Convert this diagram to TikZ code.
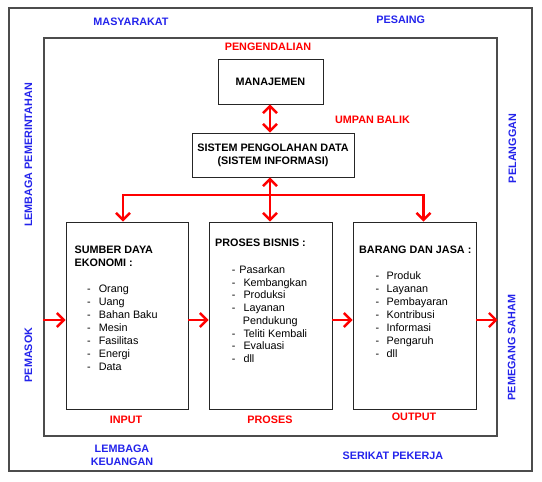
\documentclass[tikz,border=0pt]{standalone}
\usepackage{fontspec}
\setmainfont{Liberation Sans}
\usetikzlibrary{arrows.meta,positioning}
\definecolor{birulabel}{RGB}{35,35,235}

\begin{document}
\begin{tikzpicture}[x=1pt,y=-1pt,
  >={Straight Barb[length=7pt,width=14pt]},
  every node/.style = {font=\fontsize{10.8}{13}\selectfont},
  kotak/.style = {draw=black!85, line width=0.9pt, fill=white, inner sep=0pt},
  bingkai/.style = {draw=black!70, line width=1.3pt, inner sep=0pt},
  judul/.style = {font=\fontsize{10.8}{13}\selectfont\bfseries},
  merah/.style = {judul, text=red},
  biru/.style = {judul, text=birulabel},
  butir/.style = {anchor=base west, inner sep=0pt},
  panah/.style = {draw=red, line width=2.4pt, line join=miter}]
  \useasboundingbox (0,0) rectangle (542,482);

  % lingkungan dan organisasi
  \node[bingkai, minimum width=523pt, minimum height=463pt] (luar) at (270.5,239.5) {};
  \node[bingkai, minimum width=453pt, minimum height=398pt] (dalam) at (270.5,237) {};

  \node[kotak, judul, minimum width=105pt, minimum height=45pt] (manajemen) at (270.5,81.5) {MANAJEMEN};
  \node[kotak, judul, align=center, minimum width=162pt, minimum height=44pt] (spd) at (273,155)
    {SISTEM PENGOLAHAN DATA\\(SISTEM INFORMASI)};
  \node[kotak, minimum width=122pt, minimum height=187pt] (input) at (127,315.5) {};
  \node[kotak, minimum width=123pt, minimum height=187pt] (proses) at (270.5,315.5) {};
  \node[kotak, minimum width=123pt, minimum height=187pt] (output) at (414.5,315.5) {};

  % panah
  \coordinate (poros) at (270,0);
  \coordinate (jalur) at (0,320);
  \coordinate (kiri) at (123,195);
  \coordinate (kanan) at (423.5,195);
  \draw[panah, <->] (manajemen.south -| poros) -- (spd.north -| poros);
  \draw[panah, <->] (spd.south -| poros) -- (proses.north -| poros);
  \draw[panah, <->] (input.north -| kiri) -- (kiri) -- (kanan) -- (output.north -| kanan);
  \draw[panah, ->] (dalam.west |- jalur) -- (input.west |- jalur);
  \draw[panah, ->] (input.east |- jalur) -- (proses.west |- jalur);
  \draw[panah, ->] (proses.east |- jalur) -- (output.west |- jalur);
  \draw[panah, ->] (output.east |- jalur) -- (dalam.east |- jalur);

  % label merah
  \node[merah, anchor=base] (pengendalian) at (268,50.8) {PENGENDALIAN};
  \node[merah, anchor=base] (umpanbalik) at (372.5,123.8) {UMPAN BALIK};
  \node[merah, anchor=base] (lblinput) at (126,423.8) {INPUT};
  \node[merah, anchor=base] (lblproses) at (270,423.8) {PROSES};
  \node[merah, anchor=base] (lbloutput) at (414,420.8) {OUTPUT};

  % label biru
  \node[biru, anchor=base] (masyarakat) at (131,25.8) {MASYARAKAT};
  \node[biru, anchor=base] (pesaing) at (400.7,23) {PESAING};
  \node[biru, rotate=90] (pemerintah) at (28.4,155) {LEMBAGA PEMERINTAHAN};
  \node[biru, rotate=90] (pelanggan) at (512.5,148.5) {PELANGGAN};
  \node[biru, rotate=90] (pemasok) at (28.4,355) {PEMASOK};
  \node[biru, rotate=90] (pemegang) at (511.7,347.5) {PEMEGANG SAHAM};
  \node[biru, align=center, anchor=base] (keuangan) at (122,465.8) {LEMBAGA\\KEUANGAN};
  \node[biru, anchor=base] (serikat) at (393,459.8) {SERIKAT PEKERJA};

  % isi kotak
  \node[judul, butir, align=left] (kepala1) at (74.4,266.8) {SUMBER DAYA\\EKONOMI :};
  \node[judul, butir] (kepala2) at (215,246.8) {PROSES BISNIS :};
  \node[judul, butir] (kepala3) at (359,253.8) {BARANG DAN JASA :};

  \foreach \teks [count=\i] in {Orang,Uang,Bahan Baku,Mesin,Fasilitas,Energi,Data}
    \node[butir] (sumber\i) at (87,279.5+13*\i) {\makebox[11.6pt][l]{-}\teks};
  \foreach \lebar/\tanda/\teks [count=\i] in {7.6/-/Pasarkan,11.6/-/Kembangkan,11.6/-/Produksi,
      11.6/-/Layanan,11/{}/Pendukung,11.6/-/Teliti Kembali,11.6/-/Evaluasi,11.6/-/dll}
    \node[butir] (bisnis\i) at (231.7,260.8+12.7*\i) {\makebox[\lebar pt][l]{\tanda}\teks};
  \foreach \teks [count=\i] in {Produk,Layanan,Pembayaran,Kontribusi,Informasi,Pengaruh,dll}
    \node[butir] (barang\i) at (375.4,266.5+13*\i) {\makebox[11.1pt][l]{-}\teks};
\end{tikzpicture}
\end{document}
